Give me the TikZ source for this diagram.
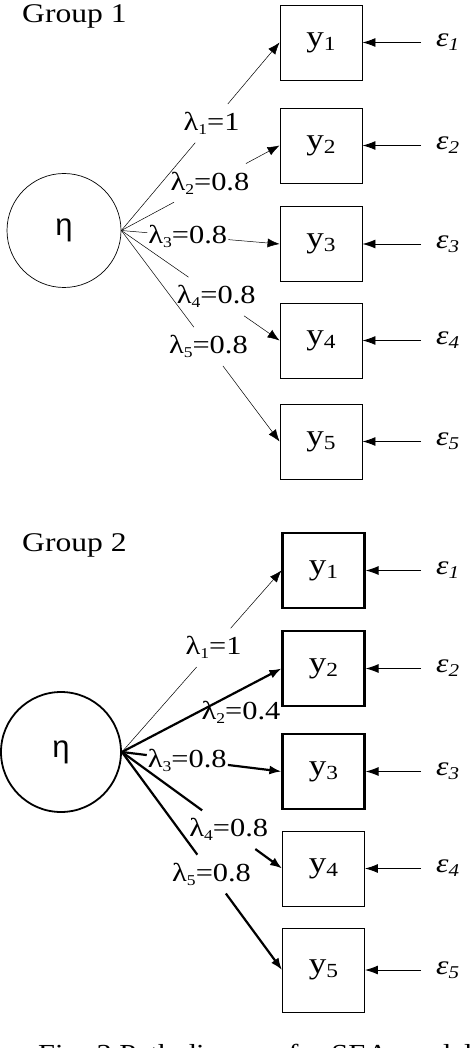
\documentclass[tikz,border=0pt]{standalone}
\usepackage{fontspec}
\setmainfont[FakeStretch=1.17]{Liberation Serif}
\newfontfamily\etafont{Liberation Sans}
\usetikzlibrary{arrows.meta}

\newcommand{\ysub}[1]{y\raisebox{-4pt}{\fontsize{20}{20}\selectfont #1}}
\newcommand{\lsub}[2]{λ\raisebox{-4pt}{\fontsize{15}{15}\selectfont #1}=#2}
\newcommand{\esub}[1]{\textit{ε\raisebox{-4pt}{\fontsize{18}{18}\selectfont #1}}}

\tikzset{
  obs/.style={draw, line width=0.9pt, minimum width=82pt, minimum height=75pt, font=\fontsize{30}{30}\selectfont},
  latent/.style={draw, circle, inner sep=0pt, font=\etafont\fontsize{31}{31}\selectfont},
  coef/.style={inner xsep=1pt, inner ysep=8pt, font=\fontsize{26}{26}\selectfont},
  resid/.style={anchor=west, inner xsep=15pt, font=\fontsize{27}{27}\selectfont},
  grouplab/.style={anchor=base west, inner sep=0pt, font=\fontsize{27}{27}\selectfont},
  link/.style={line width=0.5pt},
  load/.style={link, -{Latex[length=12pt,width=9pt]}},
  err/.style={line width=0.9pt, -{Latex[length=13pt,width=9pt]}},
  heavy/.style={line width=2.2pt}
}

\begin{document}
\begin{tikzpicture}[x=1pt, y=-1pt]
\useasboundingbox (0,0) rectangle (470,1048);

% Group 1
\node [grouplab] (g1) at (22,23) {Group 1};
\node [latent, line width=0.7pt, minimum size=114pt] (eta1) at (64,230.5) {η};

\node [obs] (y11) at (321,42.5) {\ysub{1}};
\node [obs] (y12) at (321,145.5) {\ysub{2}};
\node [obs] (y13) at (321,244) {\ysub{3}};
\node [obs] (y14) at (321,340.5) {\ysub{4}};
\node [obs] (y15) at (321,441.5) {\ysub{5}};

\node [resid] (e11) at (421,42.5) {\esub{1}};
\node [resid] (e12) at (421,145.5) {\esub{2}};
\node [resid] (e13) at (421,244) {\esub{3}};
\node [resid] (e14) at (421,340.5) {\esub{4}};
\node [resid] (e15) at (421,441.5) {\esub{5}};

\draw [err] (e11) -- (y11);
\draw [err] (e12) -- (y12);
\draw [err] (e13) -- (y13);
\draw [err] (e14) -- (y14);
\draw [err] (e15) -- (y15);

\path (eta1.east) -- node [coef, pos=0.57] (l11) {\lsub{1}{1}} (y11.west);
\path (eta1.east) -- node [coef, pos=0.56] (l12) {\lsub{2}{0.8}} (y12.west);
\path (eta1.east) -- node [coef, pos=0.42] (l13) {\lsub{3}{0.8}} (y13.west);
\path (eta1.east) -- node [coef, pos=0.6] (l14) {\lsub{4}{0.8}} (y14.west);
\path (eta1.east) -- node [coef, pos=0.55] (l15) {\lsub{5}{0.8}} (y15.west);

\draw [link] (eta1.east) -- (l11);
\draw [load] (l11) -- (y11.west);
\draw [link] (eta1.east) -- (l12);
\draw [load] (l12) -- (y12.west);
\draw [link] (eta1.east) -- (l13);
\draw [load] (l13) -- (y13.west);
\draw [link] (eta1.east) -- (l14);
\draw [load] (l14) -- (y14.west);
\draw [link] (eta1.east) -- (l15);
\draw [load] (l15) -- (y15.west);

% Group 2
\node [grouplab] (g2) at (22,551) {Group 2};
\node [latent, line width=1.8pt, minimum size=120pt] (eta2) at (61,752) {η};

\node [obs, heavy] (y21) at (323.5,570.5) {\ysub{1}};
\node [obs, heavy] (y22) at (323.5,668.5) {\ysub{2}};
\node [obs, heavy] (y23) at (323.5,771.5) {\ysub{3}};
\node [obs] (y24) at (323.5,868.5) {\ysub{4}};
\node [obs, minimum height=84pt] (y25) at (323.5,970) {\ysub{5}};

\node [resid] (e21) at (421,570.5) {\esub{1}};
\node [resid] (e22) at (421,668.5) {\esub{2}};
\node [resid] (e23) at (421,771.5) {\esub{3}};
\node [resid] (e24) at (421,868.5) {\esub{4}};
\node [resid] (e25) at (421,970) {\esub{5}};

\draw [err] (e21) -- (y21);
\draw [err] (e22) -- (y22);
\draw [err] (e23) -- (y23);
\draw [err] (e24) -- (y24);
\draw [err] (e25) -- (y25);

\path (eta2.east) -- node [coef, pos=0.575] (l21) {\lsub{1}{1}} (y21.west);
\node [coef] (l22) at (241,712) {\lsub{2}{0.4}};
\path (eta2.east) -- node [coef, pos=0.41] (l23) {\lsub{3}{0.8}} (y23.west);
\path (eta2.east) -- node [coef, pos=0.667] (l24) {\lsub{4}{0.8}} (y24.west);
\path (eta2.east) -- node [coef, pos=0.56] (l25) {\lsub{5}{0.8}} (y25.west);

\draw [link] (eta2.east) -- (l21);
\draw [load] (l21) -- (y21.west);
\draw [load, heavy] (eta2.east) -- (y22.west);
\draw [link, heavy] (eta2.east) -- (l23);
\draw [load, heavy] (l23) -- (y23.west);
\draw [link, heavy] (eta2.east) -- (l24);
\draw [load, heavy] (l24) -- (y24.west);
\draw [link, heavy] (eta2.east) -- (l25);
\draw [load, heavy] (l25) -- (y25.west);

\begin{scope}
\clip (0,0) rectangle (470,1048);
\node [grouplab, font=\fontsize{26}{26}\selectfont] (cap) at (38,1062) {Fig. 3 Path diagram for SEA model};
\end{scope}

\end{tikzpicture}
\end{document}
